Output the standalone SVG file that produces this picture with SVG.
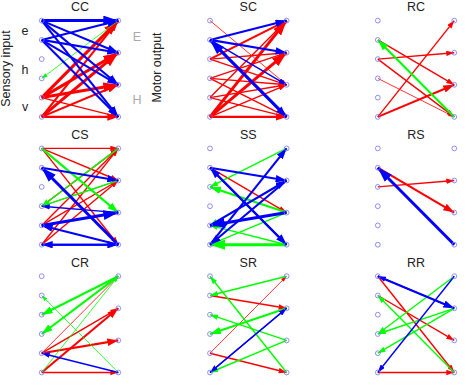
<svg xmlns="http://www.w3.org/2000/svg" width="474" height="391" viewBox="0 0 474 391">
<style>
text{font-family:"Liberation Sans",Arial,sans-serif;font-size:12.5px;fill:#222}
.ttl{text-anchor:middle}
.gray{fill:#aaa}
line{fill:none;stroke-linecap:butt}
.r{stroke:#f00}.g{stroke:#0f0}.b{stroke:#00f}
.w1{stroke-width:0.8}.w2{stroke-width:1.4}.w3{stroke-width:2.1}.w4{stroke-width:3}
.r.w1{marker-end:url(#r1)}.r.w2{marker-end:url(#r2)}.r.w3{marker-end:url(#r3)}.r.w4{marker-end:url(#r4)}
.g.w1{marker-end:url(#g1)}.g.w2{marker-end:url(#g2)}.g.w3{marker-end:url(#g3)}.g.w4{marker-end:url(#g4)}
.b.w1{marker-end:url(#b1)}.b.w2{marker-end:url(#b2)}.b.w3{marker-end:url(#b3)}.b.w4{marker-end:url(#b4)}
circle{fill:none;stroke:#7474ee;stroke-width:0.8}
</style>
<defs>
<marker id="r1" viewBox="0 0 10 10" refX="10" refY="5" markerUnits="userSpaceOnUse" markerWidth="6" markerHeight="4" orient="auto" preserveAspectRatio="none"><path d="M0,0L10,5L0,10z" fill="#f00"/></marker>
<marker id="r2" viewBox="0 0 10 10" refX="10" refY="5" markerUnits="userSpaceOnUse" markerWidth="8" markerHeight="5.5" orient="auto" preserveAspectRatio="none"><path d="M0,0L10,5L0,10z" fill="#f00"/></marker>
<marker id="r3" viewBox="0 0 10 10" refX="10" refY="5" markerUnits="userSpaceOnUse" markerWidth="11" markerHeight="7.5" orient="auto" preserveAspectRatio="none"><path d="M0,0L10,5L0,10z" fill="#f00"/></marker>
<marker id="r4" viewBox="0 0 10 10" refX="10" refY="5" markerUnits="userSpaceOnUse" markerWidth="15" markerHeight="10" orient="auto" preserveAspectRatio="none"><path d="M0,0L10,5L0,10z" fill="#f00"/></marker>
<marker id="g1" viewBox="0 0 10 10" refX="10" refY="5" markerUnits="userSpaceOnUse" markerWidth="6" markerHeight="4" orient="auto" preserveAspectRatio="none"><path d="M0,0L10,5L0,10z" fill="#0f0"/></marker>
<marker id="g2" viewBox="0 0 10 10" refX="10" refY="5" markerUnits="userSpaceOnUse" markerWidth="8" markerHeight="5.5" orient="auto" preserveAspectRatio="none"><path d="M0,0L10,5L0,10z" fill="#0f0"/></marker>
<marker id="g3" viewBox="0 0 10 10" refX="10" refY="5" markerUnits="userSpaceOnUse" markerWidth="11" markerHeight="7.5" orient="auto" preserveAspectRatio="none"><path d="M0,0L10,5L0,10z" fill="#0f0"/></marker>
<marker id="g4" viewBox="0 0 10 10" refX="10" refY="5" markerUnits="userSpaceOnUse" markerWidth="15" markerHeight="10" orient="auto" preserveAspectRatio="none"><path d="M0,0L10,5L0,10z" fill="#0f0"/></marker>
<marker id="b1" viewBox="0 0 10 10" refX="10" refY="5" markerUnits="userSpaceOnUse" markerWidth="6" markerHeight="4" orient="auto" preserveAspectRatio="none"><path d="M0,0L10,5L0,10z" fill="#00f"/></marker>
<marker id="b2" viewBox="0 0 10 10" refX="10" refY="5" markerUnits="userSpaceOnUse" markerWidth="8" markerHeight="5.5" orient="auto" preserveAspectRatio="none"><path d="M0,0L10,5L0,10z" fill="#00f"/></marker>
<marker id="b3" viewBox="0 0 10 10" refX="10" refY="5" markerUnits="userSpaceOnUse" markerWidth="11" markerHeight="7.5" orient="auto" preserveAspectRatio="none"><path d="M0,0L10,5L0,10z" fill="#00f"/></marker>
<marker id="b4" viewBox="0 0 10 10" refX="10" refY="5" markerUnits="userSpaceOnUse" markerWidth="15" markerHeight="10" orient="auto" preserveAspectRatio="none"><path d="M0,0L10,5L0,10z" fill="#00f"/></marker>
</defs>
<rect width="474" height="391" fill="#fff"/>

<g id="labels">
<text class="ttl" x="80" y="11">CC</text>
<text class="ttl" x="248.3" y="11">SC</text>
<text class="ttl" x="416" y="11">RC</text>
<text class="ttl" x="80" y="139">CS</text>
<text class="ttl" x="248.3" y="139">SS</text>
<text class="ttl" x="416" y="139">RS</text>
<text class="ttl" x="80" y="267">CR</text>
<text class="ttl" x="248.3" y="267">SR</text>
<text class="ttl" x="416" y="267">RR</text>
<text class="ttl" transform="translate(10,68.5) rotate(-90)">Sensory input</text>
<text class="ttl" transform="translate(161,67.5) rotate(-90)">Motor output</text>
<text class="ttl" x="25" y="35">e</text>
<text class="ttl" x="25" y="74">h</text>
<text class="ttl" x="25" y="111">v</text>
<text class="ttl gray" x="137" y="41">E</text>
<text class="ttl gray" x="137" y="104">H</text>
</g>

<g id="connectors">
<!-- CC -->
<line class="r w4" x1="41.7" y1="97.6" x2="118.3" y2="20.6"/>
<line class="r w4" x1="41.7" y1="97.6" x2="118.3" y2="52.7"/>
<line class="r w4" x1="41.7" y1="97.6" x2="118.3" y2="84.8"/>
<line class="r w2" x1="41.7" y1="97.6" x2="118.3" y2="116.9"/>
<line class="r w3" x1="41.7" y1="116.9" x2="118.3" y2="20.6"/>
<line class="r w4" x1="41.7" y1="116.9" x2="118.3" y2="52.7"/>
<line class="r w3" x1="41.7" y1="116.9" x2="118.3" y2="84.8"/>
<line class="r w3" x1="41.7" y1="116.9" x2="118.3" y2="116.9"/>
<line class="g w1" x1="118.3" y1="20.6" x2="41.7" y2="78.4"/>
<line class="b w4" x1="41.7" y1="20.6" x2="118.3" y2="20.6"/>
<line class="b w3" x1="41.7" y1="20.6" x2="118.3" y2="52.7"/>
<line class="b w3" x1="41.7" y1="20.6" x2="118.3" y2="84.8"/>
<line class="b w3" x1="41.7" y1="20.6" x2="118.3" y2="116.9"/>
<line class="b w3" x1="41.7" y1="39.9" x2="118.3" y2="20.6"/>
<line class="b w3" x1="41.7" y1="39.9" x2="118.3" y2="52.7"/>
<line class="b w3" x1="41.7" y1="39.9" x2="118.3" y2="84.8"/>
<line class="b w3" x1="41.7" y1="39.9" x2="118.3" y2="116.9"/>
<!-- SC -->
<line class="r w1" x1="210" y1="20.6" x2="286.6" y2="84.8"/>
<line class="r w3" x1="210" y1="59.1" x2="286.6" y2="20.6"/>
<line class="r w2" x1="210" y1="59.1" x2="286.6" y2="52.7"/>
<line class="r w2" x1="210" y1="59.1" x2="286.6" y2="84.8"/>
<line class="r w2" x1="210" y1="78.4" x2="286.6" y2="52.7"/>
<line class="r w2" x1="210" y1="78.4" x2="286.6" y2="84.8"/>
<line class="r w2" x1="210" y1="78.4" x2="286.6" y2="116.9"/>
<line class="r w2" x1="210" y1="97.6" x2="286.6" y2="20.6"/>
<line class="r w2" x1="210" y1="97.6" x2="286.6" y2="84.8"/>
<line class="r w2" x1="210" y1="97.6" x2="286.6" y2="116.9"/>
<line class="r w4" x1="210" y1="116.9" x2="286.6" y2="20.6"/>
<line class="r w4" x1="210" y1="116.9" x2="286.6" y2="52.7"/>
<line class="r w2" x1="210" y1="116.9" x2="286.6" y2="84.8"/>
<line class="r w3" x1="210" y1="116.9" x2="286.6" y2="116.9"/>
<line class="b w3" x1="210" y1="39.9" x2="286.6" y2="20.6"/>
<line class="b w3" x1="210" y1="39.9" x2="286.6" y2="52.7"/>
<line class="b w2" x1="210" y1="39.9" x2="286.6" y2="84.8"/>
<line class="b w3" x1="210" y1="39.9" x2="286.6" y2="116.9"/>
<line class="b w4" x1="286.6" y1="116.9" x2="210" y2="39.9"/>
<!-- RC -->
<line class="r w2" x1="377.8" y1="116.9" x2="454.3" y2="20.6"/>
<line class="r w3" x1="377.8" y1="116.9" x2="454.3" y2="84.8"/>
<line class="r w2" x1="377.8" y1="39.9" x2="454.3" y2="84.8"/>
<line class="r w2" x1="377.8" y1="59.1" x2="454.3" y2="52.7"/>
<line class="r w2" x1="377.8" y1="59.1" x2="454.3" y2="116.9"/>
<line class="r w1" x1="377.8" y1="78.4" x2="454.3" y2="116.9"/>
<line class="g w3" x1="454.3" y1="116.9" x2="377.8" y2="39.9"/>
<!-- CS -->
<line class="r w2" x1="41.7" y1="148.4" x2="118.3" y2="148.4"/>
<line class="r w2" x1="41.7" y1="148.4" x2="118.3" y2="180.5"/>
<line class="r w2" x1="41.7" y1="148.4" x2="118.3" y2="244.7"/>
<line class="r w1" x1="41.7" y1="167.7" x2="118.3" y2="244.7"/>
<line class="r w2" x1="41.7" y1="206.2" x2="118.3" y2="148.4"/>
<line class="r w1" x1="41.7" y1="206.2" x2="118.3" y2="180.5"/>
<line class="r w2" x1="41.7" y1="225.4" x2="118.3" y2="148.4"/>
<line class="r w2" x1="41.7" y1="225.4" x2="118.3" y2="180.5"/>
<line class="r w2" x1="41.7" y1="244.7" x2="118.3" y2="148.4"/>
<line class="r w2" x1="41.7" y1="244.7" x2="118.3" y2="180.5"/>
<line class="g w3" x1="41.7" y1="148.4" x2="118.3" y2="212.6"/>
<line class="g w2" x1="118.3" y1="148.4" x2="41.7" y2="206.2"/>
<line class="g w2" x1="118.3" y1="180.5" x2="41.7" y2="206.2"/>
<line class="b w3" x1="41.7" y1="167.7" x2="118.3" y2="180.5"/>
<line class="b w4" x1="118.3" y1="244.7" x2="41.7" y2="167.7"/>
<line class="b w2" x1="118.3" y1="212.6" x2="41.7" y2="206.2"/>
<line class="b w4" x1="41.7" y1="225.4" x2="118.3" y2="212.6"/>
<line class="b w3" x1="118.3" y1="244.7" x2="41.7" y2="225.4"/>
<line class="b w3" x1="41.7" y1="244.7" x2="118.3" y2="244.7"/>
<line class="b w3" x1="118.3" y1="244.7" x2="41.7" y2="244.7"/>
<!-- SS -->
<line class="r w2" x1="210" y1="167.7" x2="286.6" y2="212.6"/>
<line class="g w2" x1="286.6" y1="148.4" x2="210" y2="186.9"/>
<line class="g w3" x1="286.6" y1="212.6" x2="210" y2="186.9"/>
<line class="g w2" x1="286.6" y1="180.5" x2="210" y2="225.4"/>
<line class="g w2" x1="286.6" y1="244.7" x2="210" y2="225.4"/>
<line class="g w2" x1="286.6" y1="212.6" x2="210" y2="244.7"/>
<line class="g w4" x1="286.6" y1="244.7" x2="210" y2="244.7"/>
<line class="b w3" x1="210" y1="167.7" x2="286.6" y2="180.5"/>
<line class="b w3" x1="210" y1="167.7" x2="286.6" y2="244.7"/>
<line class="b w3" x1="286.6" y1="244.7" x2="210" y2="167.7"/>
<line class="b w3" x1="210" y1="244.7" x2="286.6" y2="148.4"/>
<line class="b w3" x1="210" y1="225.4" x2="286.6" y2="180.5"/>
<line class="b w4" x1="286.6" y1="212.6" x2="210" y2="225.4"/>
<line class="b w3" x1="286.6" y1="180.5" x2="210" y2="244.7"/>
<!-- RS -->
<line class="r w2" x1="377.8" y1="186.9" x2="454.3" y2="180.5"/>
<line class="r w3" x1="377.8" y1="167.7" x2="454.3" y2="212.6"/>
<line class="b w4" x1="454.3" y1="244.7" x2="377.8" y2="167.7"/>
<!-- CR -->
<line class="r w1" x1="41.7" y1="353.2" x2="118.3" y2="276.2"/>
<line class="r w2" x1="41.7" y1="353.2" x2="118.3" y2="308.3"/>
<line class="r w3" x1="41.7" y1="372.5" x2="118.3" y2="308.3"/>
<line class="r w3" x1="41.7" y1="353.2" x2="118.3" y2="340.4"/>
<line class="r w2" x1="41.7" y1="372.5" x2="118.3" y2="372.5"/>
<line class="g w3" x1="118.3" y1="276.2" x2="41.7" y2="314.7"/>
<line class="g w3" x1="118.3" y1="276.2" x2="41.7" y2="334"/>
<line class="g w1" x1="118.3" y1="372.5" x2="41.7" y2="295.5"/>
<line class="g w1" x1="41.7" y1="372.5" x2="118.3" y2="276.2"/>
<line class="b w2" x1="118.3" y1="372.5" x2="41.7" y2="353.2"/>
<!-- SR -->
<line class="r w2" x1="210" y1="295.5" x2="286.6" y2="308.3"/>
<line class="r w2" x1="210" y1="353.2" x2="286.6" y2="372.5"/>
<line class="r w1" x1="210" y1="353.2" x2="286.6" y2="276.2"/>
<line class="g w2" x1="286.6" y1="276.2" x2="210" y2="295.5"/>
<line class="g w2" x1="286.6" y1="372.5" x2="210" y2="276.2"/>
<line class="g w3" x1="286.6" y1="308.3" x2="210" y2="334"/>
<line class="g w2" x1="286.6" y1="340.4" x2="210" y2="314.7"/>
<line class="g w2" x1="286.6" y1="340.4" x2="210" y2="372.5"/>
<line class="b w2" x1="210" y1="372.5" x2="286.6" y2="308.3"/>
<line class="b w2" x1="286.6" y1="308.3" x2="210" y2="372.5"/>
<!-- RR -->
<line class="r w2" x1="377.8" y1="276.2" x2="454.3" y2="372.5"/>
<line class="r w2" x1="377.8" y1="295.5" x2="454.3" y2="340.4"/>
<line class="r w2" x1="377.8" y1="372.5" x2="454.3" y2="372.5"/>
<line class="g w2" x1="454.3" y1="372.5" x2="377.8" y2="295.5"/>
<line class="g w2" x1="454.3" y1="276.2" x2="377.8" y2="334"/>
<line class="g w2" x1="454.3" y1="308.3" x2="377.8" y2="334"/>
<line class="g w2" x1="454.3" y1="308.3" x2="377.8" y2="353.2"/>
<line class="b w3" x1="377.8" y1="276.2" x2="454.3" y2="308.3"/>
<line class="b w2" x1="454.3" y1="308.3" x2="377.8" y2="276.2"/>
<line class="b w2" x1="454.3" y1="276.2" x2="377.8" y2="372.5"/>
</g>

<g id="nodes">
<g id="CC-L0"><circle cx="41.7" cy="20.6" r="2.4"/></g><g id="CC-L1"><circle cx="41.7" cy="39.9" r="2.4"/></g><g id="CC-L2"><circle cx="41.7" cy="59.1" r="2.4"/></g><g id="CC-L3"><circle cx="41.7" cy="78.4" r="2.4"/></g><g id="CC-L4"><circle cx="41.7" cy="97.6" r="2.4"/></g><g id="CC-L5"><circle cx="41.7" cy="116.9" r="2.4"/></g>
<g id="CC-R0"><circle cx="118.3" cy="20.6" r="2.4"/></g><g id="CC-R1"><circle cx="118.3" cy="52.7" r="2.4"/></g><g id="CC-R2"><circle cx="118.3" cy="84.8" r="2.4"/></g><g id="CC-R3"><circle cx="118.3" cy="116.9" r="2.4"/></g>
<g id="SC-L0"><circle cx="210" cy="20.6" r="2.4"/></g><g id="SC-L1"><circle cx="210" cy="39.9" r="2.4"/></g><g id="SC-L2"><circle cx="210" cy="59.1" r="2.4"/></g><g id="SC-L3"><circle cx="210" cy="78.4" r="2.4"/></g><g id="SC-L4"><circle cx="210" cy="97.6" r="2.4"/></g><g id="SC-L5"><circle cx="210" cy="116.9" r="2.4"/></g>
<g id="SC-R0"><circle cx="286.6" cy="20.6" r="2.4"/></g><g id="SC-R1"><circle cx="286.6" cy="52.7" r="2.4"/></g><g id="SC-R2"><circle cx="286.6" cy="84.8" r="2.4"/></g><g id="SC-R3"><circle cx="286.6" cy="116.9" r="2.4"/></g>
<g id="RC-L0"><circle cx="377.8" cy="20.6" r="2.4"/></g><g id="RC-L1"><circle cx="377.8" cy="39.9" r="2.4"/></g><g id="RC-L2"><circle cx="377.8" cy="59.1" r="2.4"/></g><g id="RC-L3"><circle cx="377.8" cy="78.4" r="2.4"/></g><g id="RC-L4"><circle cx="377.8" cy="97.6" r="2.4"/></g><g id="RC-L5"><circle cx="377.8" cy="116.9" r="2.4"/></g>
<g id="RC-R0"><circle cx="454.3" cy="20.6" r="2.4"/></g><g id="RC-R1"><circle cx="454.3" cy="52.7" r="2.4"/></g><g id="RC-R2"><circle cx="454.3" cy="84.8" r="2.4"/></g><g id="RC-R3"><circle cx="454.3" cy="116.9" r="2.4"/></g>
<g id="CS-L0"><circle cx="41.7" cy="148.4" r="2.4"/></g><g id="CS-L1"><circle cx="41.7" cy="167.7" r="2.4"/></g><g id="CS-L2"><circle cx="41.7" cy="186.9" r="2.4"/></g><g id="CS-L3"><circle cx="41.7" cy="206.2" r="2.4"/></g><g id="CS-L4"><circle cx="41.7" cy="225.4" r="2.4"/></g><g id="CS-L5"><circle cx="41.7" cy="244.7" r="2.4"/></g>
<g id="CS-R0"><circle cx="118.3" cy="148.4" r="2.4"/></g><g id="CS-R1"><circle cx="118.3" cy="180.5" r="2.4"/></g><g id="CS-R2"><circle cx="118.3" cy="212.6" r="2.4"/></g><g id="CS-R3"><circle cx="118.3" cy="244.7" r="2.4"/></g>
<g id="SS-L0"><circle cx="210" cy="148.4" r="2.4"/></g><g id="SS-L1"><circle cx="210" cy="167.7" r="2.4"/></g><g id="SS-L2"><circle cx="210" cy="186.9" r="2.4"/></g><g id="SS-L3"><circle cx="210" cy="206.2" r="2.4"/></g><g id="SS-L4"><circle cx="210" cy="225.4" r="2.4"/></g><g id="SS-L5"><circle cx="210" cy="244.7" r="2.4"/></g>
<g id="SS-R0"><circle cx="286.6" cy="148.4" r="2.4"/></g><g id="SS-R1"><circle cx="286.6" cy="180.5" r="2.4"/></g><g id="SS-R2"><circle cx="286.6" cy="212.6" r="2.4"/></g><g id="SS-R3"><circle cx="286.6" cy="244.7" r="2.4"/></g>
<g id="RS-L0"><circle cx="377.8" cy="148.4" r="2.4"/></g><g id="RS-L1"><circle cx="377.8" cy="167.7" r="2.4"/></g><g id="RS-L2"><circle cx="377.8" cy="186.9" r="2.4"/></g><g id="RS-L3"><circle cx="377.8" cy="206.2" r="2.4"/></g><g id="RS-L4"><circle cx="377.8" cy="225.4" r="2.4"/></g><g id="RS-L5"><circle cx="377.8" cy="244.7" r="2.4"/></g>
<g id="RS-R0"><circle cx="454.3" cy="148.4" r="2.4"/></g><g id="RS-R1"><circle cx="454.3" cy="180.5" r="2.4"/></g><g id="RS-R2"><circle cx="454.3" cy="212.6" r="2.4"/></g><g id="RS-R3"><circle cx="454.3" cy="244.7" r="2.4"/></g>
<g id="CR-L0"><circle cx="41.7" cy="276.2" r="2.4"/></g><g id="CR-L1"><circle cx="41.7" cy="295.5" r="2.4"/></g><g id="CR-L2"><circle cx="41.7" cy="314.7" r="2.4"/></g><g id="CR-L3"><circle cx="41.7" cy="334" r="2.4"/></g><g id="CR-L4"><circle cx="41.7" cy="353.2" r="2.4"/></g><g id="CR-L5"><circle cx="41.7" cy="372.5" r="2.4"/></g>
<g id="CR-R0"><circle cx="118.3" cy="276.2" r="2.4"/></g><g id="CR-R1"><circle cx="118.3" cy="308.3" r="2.4"/></g><g id="CR-R2"><circle cx="118.3" cy="340.4" r="2.4"/></g><g id="CR-R3"><circle cx="118.3" cy="372.5" r="2.4"/></g>
<g id="SR-L0"><circle cx="210" cy="276.2" r="2.4"/></g><g id="SR-L1"><circle cx="210" cy="295.5" r="2.4"/></g><g id="SR-L2"><circle cx="210" cy="314.7" r="2.4"/></g><g id="SR-L3"><circle cx="210" cy="334" r="2.4"/></g><g id="SR-L4"><circle cx="210" cy="353.2" r="2.4"/></g><g id="SR-L5"><circle cx="210" cy="372.5" r="2.4"/></g>
<g id="SR-R0"><circle cx="286.6" cy="276.2" r="2.4"/></g><g id="SR-R1"><circle cx="286.6" cy="308.3" r="2.4"/></g><g id="SR-R2"><circle cx="286.6" cy="340.4" r="2.4"/></g><g id="SR-R3"><circle cx="286.6" cy="372.5" r="2.4"/></g>
<g id="RR-L0"><circle cx="377.8" cy="276.2" r="2.4"/></g><g id="RR-L1"><circle cx="377.8" cy="295.5" r="2.4"/></g><g id="RR-L2"><circle cx="377.8" cy="314.7" r="2.4"/></g><g id="RR-L3"><circle cx="377.8" cy="334" r="2.4"/></g><g id="RR-L4"><circle cx="377.8" cy="353.2" r="2.4"/></g><g id="RR-L5"><circle cx="377.8" cy="372.5" r="2.4"/></g>
<g id="RR-R0"><circle cx="454.3" cy="276.2" r="2.4"/></g><g id="RR-R1"><circle cx="454.3" cy="308.3" r="2.4"/></g><g id="RR-R2"><circle cx="454.3" cy="340.4" r="2.4"/></g><g id="RR-R3"><circle cx="454.3" cy="372.5" r="2.4"/></g>
</g>
</svg>
